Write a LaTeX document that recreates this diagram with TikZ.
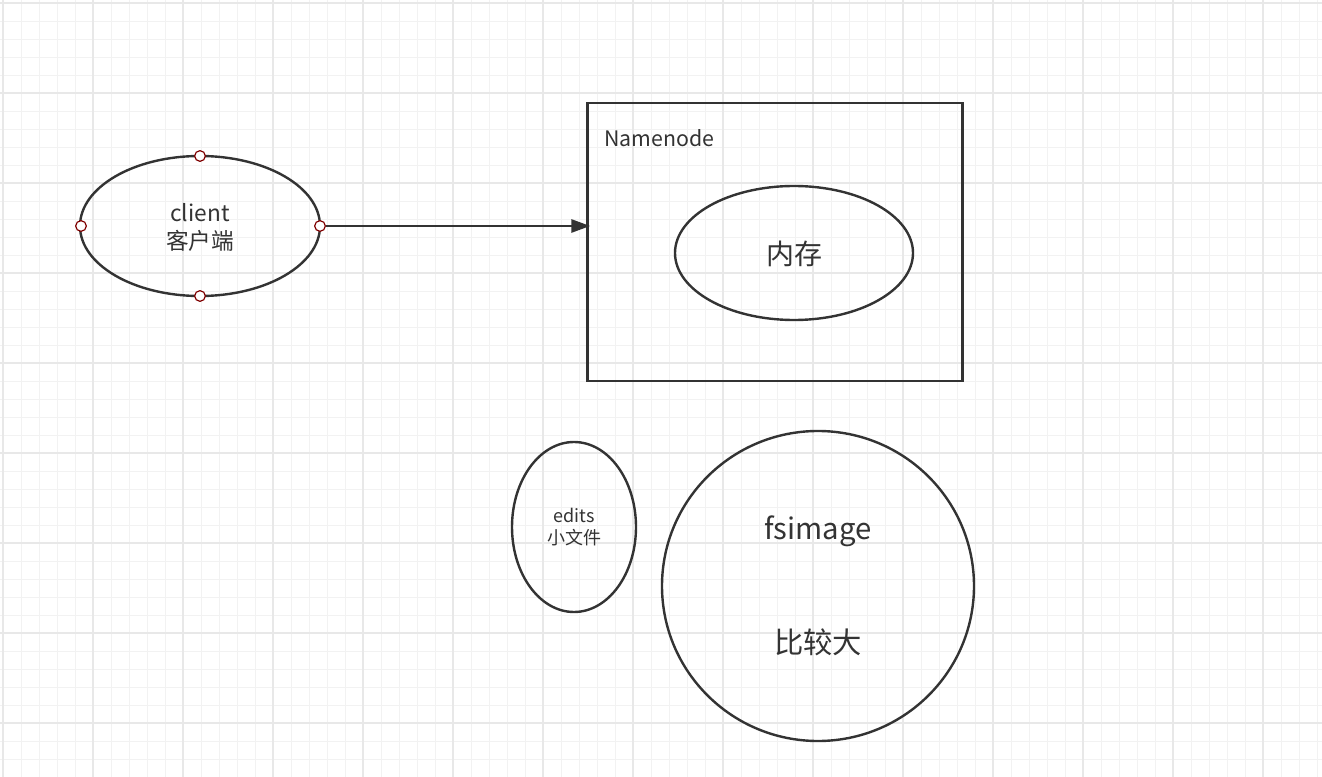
\documentclass[tikz,border=0pt]{standalone}
\usepackage{fontspec}
\setmainfont{Noto Sans CJK SC}
\usetikzlibrary{arrows.meta}
\begin{document}
\begin{tikzpicture}[x=0.75pt,y=-0.75pt,
  shape line/.style={draw=black!80,line width=1.8pt},
  port/.style={circle,draw=red!50!black,fill=white,line width=0.9pt,inner sep=0pt,minimum size=8pt},
  txt/.style={text=black!80,align=center,inner sep=0pt}]
\useasboundingbox (0,0) rectangle (1322,777);
\fill[white] (0,0) rectangle (1322,777);
\foreach \x in {3,21,...,1322} \draw[black!5,line width=0.6pt] (\x,0) -- (\x,777);
\foreach \y in {3,21,...,777} \draw[black!5,line width=0.6pt] (0,\y) -- (1322,\y);
\foreach \x in {3,93,...,1322} \draw[black!9,line width=0.8pt] (\x,0) -- (\x,777);
\foreach \y in {3,93,...,777} \draw[black!9,line width=0.8pt] (0,\y) -- (1322,\y);
% client
\draw[shape line] (200,226) ellipse [x radius=120,y radius=70];
\node[txt,font=\fontsize{17}{21}\selectfont] (client) at (200,227) {client\\客户端};
\node[port] (pt) at (200,156) {};
\node[port] (pl) at (81,226) {};
\node[port] (pr) at (320,226) {};
\node[port] (pb) at (200,296) {};
% namenode
\node[shape line,minimum width=281pt,minimum height=208.5pt,inner sep=0pt] (nn) at (775,242) {};
\node[txt,anchor=west,font=\fontsize{16}{20}\selectfont] (nnl) at (604,138) {Namenode};
\coordinate (nnin) at (590,226);
\draw[black!80,line width=1.3pt,-{Triangle[length=14pt,width=10pt]}] (pr) -- (nnin);
\draw[shape line] (794,253) ellipse [x radius=119,y radius=67];
\node[txt,font=\fontsize{21}{25}\selectfont] (mem) at (794,254) {内存};
% edits
\draw[shape line] (574,527) ellipse [x radius=62,y radius=85];
\node[txt,font=\fontsize{13.5}{17}\selectfont] (edits) at (574,527) {edits\\小文件};
% fsimage
\draw[shape line] (818,586) ellipse [x radius=156,y radius=155];
\node[txt,font=\fontsize{22}{26}\selectfont] (fs) at (818,531) {fsimage};
\node[txt,font=\fontsize{22}{26}\selectfont] (big) at (818,642) {比较大};
\end{tikzpicture}
\end{document}
